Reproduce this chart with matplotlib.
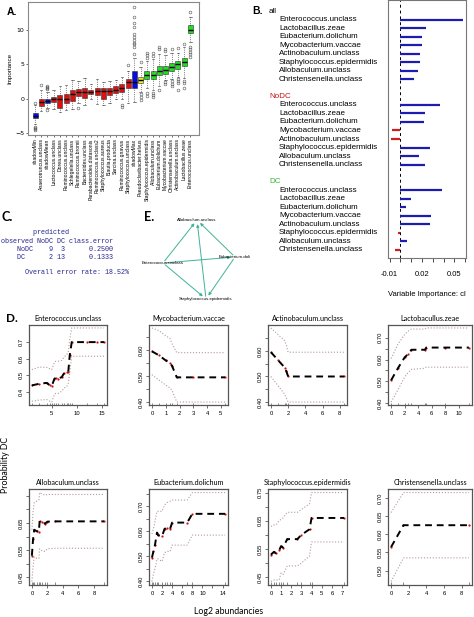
import numpy as np
import matplotlib
matplotlib.use('Agg')
import matplotlib.pyplot as plt
from matplotlib.transforms import blended_transform_factory

W, H = 474, 617

# ---- panel A: Boruta importance boxplots ----
a_names = ['shadowMin', 'Anaerotruncus.unclass', 'shadowMean', 'Lactococcus.unclass',
           'Dorea.unclass', 'Ruminococcus.unclass', 'Schlegelella.unclass',
           'Ruminococcus.bromii', 'Bacteroides.unclass', 'Parabacteroides.distasonis',
           'Ruminococcus.unclass2', 'Staphylococcus.aureus', 'Blautia.producta',
           'Sarcina.unclass', 'Ruminococcus.gnavus', 'Staphylococcus.unclass',
           'shadowMax', 'Pseudoclavibacter.helvus', 'Staphylococcus.epidermidis',
           'Allobaculum.unclass', 'Eubacterium.dolichum', 'Mycobacterium.vaccae',
           'Christensenella.unclass', 'Actinobaculum.unclass', 'Lactobacillus.zeae',
           'Enterococcus.unclass']
a_group = ['shadow', 'rejected', 'shadow'] + ['rejected'] * 13 + ['shadow', 'tentative'] + ['confirmed'] * 8
a_q1 = [-2.9, -1.1, -0.6, -0.5, -1.4, -0.7, -0.4, 0.4, 0.1, 0.6, 0.5, 0.0, 0.5, 0.8, 1.0, 1.6,
        1.6, 2.3, 2.8, 2.8, 3.5, 3.6, 4.1, 4.4, 4.7, 9.6]
a_med = [-2.5, -0.5, -0.3, -0.05, -0.1, 0.0, 0.6, 1.0, 0.9, 1.0, 1.1, 1.1, 1.1, 1.3, 1.55, 2.4,
         2.4, 2.75, 3.4, 3.5, 4.1, 4.2, 4.6, 5.0, 5.3, 10.1]
a_q3 = [-2.1, 0.0, 0.0, 0.3, 0.5, 0.6, 1.2, 1.4, 1.5, 1.3, 1.6, 1.6, 1.6, 1.8, 2.1, 2.9,
        4.0, 3.2, 4.0, 4.1, 4.7, 4.8, 5.2, 5.5, 6.0, 10.7]
a_lo = [-3.7, -1.8, -1.4, -1.5, -2.0, -1.6, -1.5, -0.6, -1.0, -0.1, -0.8, -1.0, -0.6, 0.0, 0.0, -0.7,
        -0.5, 0.9, 1.5, 1.2, 1.8, 2.7, 2.8, 3.2, 3.0, 8.3]
a_hi = [-1.0, 1.2, 1.0, 1.2, 1.8, 2.0, 2.7, 2.6, 3.0, 2.1, 2.9, 2.4, 2.6, 2.7, 3.2, 4.0,
        6.0, 4.6, 5.5, 5.8, 6.5, 6.4, 6.6, 6.6, 7.6, 12.0]
a_out = [[-4.1, -4.3, -4.5, -4.6, -0.6], [2.0], [1.4, 1.6, 1.7, 1.8, -1.7], [], [], [], [],
         [-1.4], [], [], [], [], [], [], [-1.0, -1.2], [4.9],
         [6.5, 7.5, 8.0, 8.2, 8.5, 9.0, 9.5, 10.5, 11.0, 12.0, 13.4],
         [5.3, 0.6, 0.2, -0.2], [6.0, 6.4, 6.7, 0.8, 0.4], [6.3, 6.6, 0.8, 0.5, 0.3],
         [7.3, 7.6, 1.3], [7.0, 7.3, 2.4, 2.1], [7.2, 2.5, 2.2, 1.9],
         [7.4, 2.8, 2.5, 2.3, 1.3], [8.0, 2.5, 2.3, 1.5], [12.7, 7.5, 7.2, 6.8, 6.5, 6.1]]
a_colors = {'shadow': '#0a0ae0', 'rejected': '#e01010', 'tentative': '#f0f020', 'confirmed': '#22dd22'}

# ---- panel B: variable importance ----
b_taxa = ['Enterococcus.unclass', 'Lactobacillus.zeae', 'Eubacterium.dolichum',
          'Mycobacterium.vaccae', 'Actinobaculum.unclass', 'Staphylococcus.epidermidis',
          'Allobaculum.unclass', 'Christensenella.unclass']
b_headers = ['all', 'NoDC', 'DC']
b_header_colors = ['black', '#cc1111', '#33bb33']
b_all = [0.058, 0.0236, 0.020, 0.0197, 0.0185, 0.018, 0.0167, 0.0127]
b_nodc = [0.0367, 0.0224, 0.022, -0.0082, -0.0088, 0.027, 0.017, 0.023]
b_dc = [0.0385, 0.010, 0.0055, 0.0285, 0.0276, -0.0018, 0.006, -0.0052]

# ---- panel C: confusion matrix ----
c_lines = ['        predicted',
           'observed NoDC DC class.error',
           '    NoDC    9  3      0.2500',
           '    DC      2 13      0.1333']
c_error = '      Overall error rate: 18.52%'

# ---- panel E: network ----
e_pos = {'Allobaculum.unclass': (197, 220), 'Eubacterium.doli': (235, 257),
         'Enterococcus.unclass': (163, 263), 'Staphylococcus.epidermidis': (206, 299)}
e_edges = [('Enterococcus.unclass', 'Allobaculum.unclass'),
           ('Staphylococcus.epidermidis', 'Allobaculum.unclass'),
           ('Eubacterium.doli', 'Allobaculum.unclass'),
           ('Enterococcus.unclass', 'Eubacterium.doli'),
           ('Enterococcus.unclass', 'Staphylococcus.epidermidis'),
           ('Eubacterium.doli', 'Staphylococcus.epidermidis')]

# ---- panel D: partial dependence ----
ent_x = [1.0, 2.5, 4.0, 4.6, 5.0, 5.5, 5.8, 6.3, 7.0, 7.5, 8.0, 8.3, 8.6, 9.0, 12.0, 14.0, 15.5]
ent_mean = [0.44, 0.45, 0.455, 0.44, 0.437, 0.478, 0.487, 0.48, 0.49, 0.515, 0.52, 0.52, 0.62, 0.70, 0.70, 0.70, 0.70]
ent_hi = [0.535, 0.55, 0.548, 0.54, 0.535, 0.578, 0.585, 0.585, 0.59, 0.612, 0.625, 0.64, 0.72, 0.785, 0.785, 0.785, 0.785]
ent_lo = [0.345, 0.352, 0.355, 0.345, 0.34, 0.385, 0.392, 0.392, 0.405, 0.425, 0.432, 0.452, 0.52, 0.615, 0.615, 0.615, 0.615]

myc_x = [0, 0.5, 1.0, 1.3, 1.45, 1.8, 3.0, 5.3]
myc_mean = [0.595, 0.58, 0.56, 0.55, 0.54, 0.495, 0.495, 0.495]
myc_hi = [0.685, 0.675, 0.655, 0.645, 0.625, 0.59, 0.59, 0.59]
myc_lo = [0.505, 0.485, 0.465, 0.455, 0.445, 0.40, 0.40, 0.40]

act_x = [0, 0.8, 1.6, 1.8, 2.0, 8.5]
act_mean = [0.595, 0.565, 0.535, 0.52, 0.50, 0.50]
act_hi = [0.69, 0.665, 0.64, 0.62, 0.595, 0.595]
act_lo = [0.50, 0.465, 0.43, 0.415, 0.40, 0.40]

lac_x = [0, 1.0, 2.0, 2.5, 3.0, 5.0, 5.2, 8.0, 11.5]
lac_mean = [0.505, 0.56, 0.61, 0.625, 0.645, 0.645, 0.655, 0.655, 0.655]
lac_hi = [0.605, 0.67, 0.715, 0.73, 0.74, 0.74, 0.745, 0.745, 0.745]
lac_lo = [0.405, 0.46, 0.52, 0.54, 0.555, 0.56, 0.565, 0.565, 0.565]

all_x = [0, 0.15, 0.3, 0.6, 0.9, 1.0, 1.3, 1.7, 2.0, 3.0, 9.3]
all_mean = [0.53, 0.59, 0.625, 0.62, 0.618, 0.658, 0.652, 0.648, 0.655, 0.656, 0.656]
all_hi = [0.625, 0.69, 0.725, 0.73, 0.735, 0.762, 0.757, 0.752, 0.755, 0.755, 0.755]
all_lo = [0.435, 0.49, 0.525, 0.52, 0.52, 0.555, 0.548, 0.545, 0.555, 0.557, 0.557]

eub_x = [0, 0.3, 0.6, 1.0, 1.2, 2.0, 2.5, 3.0, 3.6, 4.0, 7.0, 8.0, 14.5]
eub_mean = [0.495, 0.52, 0.545, 0.595, 0.585, 0.58, 0.61, 0.615, 0.61, 0.635, 0.635, 0.67, 0.67]
eub_hi = [0.59, 0.61, 0.64, 0.68, 0.68, 0.68, 0.705, 0.715, 0.72, 0.725, 0.725, 0.755, 0.755]
eub_lo = [0.40, 0.43, 0.45, 0.49, 0.49, 0.48, 0.515, 0.52, 0.52, 0.545, 0.545, 0.585, 0.585]

sta_x = [0, 0.3, 0.5, 0.8, 1.0, 1.2, 1.6, 2.6, 3.0, 3.8, 4.0, 7.2]
sta_mean = [0.53, 0.54, 0.535, 0.545, 0.56, 0.555, 0.585, 0.585, 0.60, 0.62, 0.66, 0.66]
sta_hi = [0.63, 0.635, 0.635, 0.65, 0.655, 0.66, 0.68, 0.68, 0.69, 0.71, 0.75, 0.75]
sta_lo = [0.435, 0.44, 0.44, 0.44, 0.465, 0.46, 0.49, 0.49, 0.50, 0.525, 0.575, 0.575]

chr_x = [0, 1.4, 8.8]
chr_mean = [0.565, 0.625, 0.625]
chr_hi = [0.66, 0.715, 0.715]
chr_lo = [0.47, 0.535, 0.535]

d_titles = ['Enterococcus.unclass', 'Mycobacterium.vaccae', 'Actinobaculum.unclass',
            'Lactobacullus.zeae', 'Allobaculum.unclass', 'Eubacterium.dolichum',
            'Staphylococcus.epidermidis', 'Christensenella.unclass']
d_xticks = [[5, 10, 15], [0, 1, 2, 3, 4, 5], [0, 2, 4, 6, 8], [0, 2, 4, 6, 8, 10],
            [0, 2, 4, 6, 8], [0, 2, 4, 6, 8, 10, 12, 14], [0, 1, 2, 3, 4, 5, 6, 7], [0, 2, 4, 6, 8]]
d_xhide = [[], [], [], [], [], [12], [], []]
d_yticks = [[0.4, 0.5, 0.6, 0.7], [0.40, 0.45, 0.50, 0.55, 0.60, 0.65],
            [0.40, 0.45, 0.50, 0.55, 0.60, 0.65], [0.40, 0.45, 0.50, 0.55, 0.60, 0.65, 0.70],
            [0.45, 0.50, 0.55, 0.60, 0.65, 0.70, 0.75], [0.40, 0.45, 0.50, 0.55, 0.60, 0.65, 0.70, 0.75],
            [0.45, 0.50, 0.55, 0.60, 0.65, 0.70, 0.75], [0.50, 0.55, 0.60, 0.65, 0.70]]
d_ylabeled = [[0.4, 0.5, 0.6, 0.7], [0.40, 0.50, 0.60], [0.40, 0.50, 0.60], [0.40, 0.50, 0.60, 0.70],
              [0.45, 0.55, 0.65], [0.40, 0.50, 0.60, 0.70], [0.45, 0.55, 0.65, 0.75],
              [0.50, 0.55, 0.60, 0.65, 0.70]]
d_yfmt = ['%.1f'] + ['%.2f'] * 7

d_series = [(ent_x, ent_mean, ent_hi, ent_lo), (myc_x, myc_mean, myc_hi, myc_lo),
            (act_x, act_mean, act_hi, act_lo), (lac_x, lac_mean, lac_hi, lac_lo),
            (all_x, all_mean, all_hi, all_lo), (eub_x, eub_mean, eub_hi, eub_lo),
            (sta_x, sta_mean, sta_hi, sta_lo), (chr_x, chr_mean, chr_hi, chr_lo)]

fig = plt.figure(figsize=(W / 100, H / 100), dpi=100)


def rect(x0, y0, x1, y1):
    return [x0 / W, 1 - y1 / H, (x1 - x0) / W, (y1 - y0) / H]


def frame(ax, col='#555555', lw=0.8):
    for s in ax.spines.values():
        s.set_color(col)
        s.set_linewidth(lw)


# panel A
ax = fig.add_axes(rect(28, 2, 199, 135))
stats = []
for i in range(len(a_names)):
    stats.append(dict(med=a_med[i], q1=a_q1[i], q3=a_q3[i], whislo=a_lo[i],
                      whishi=a_hi[i], fliers=a_out[i], label=a_names[i]))
pos = np.arange(1, len(a_names) + 1)
bp = ax.bxp(stats, positions=pos, widths=0.8, patch_artist=True,
            boxprops=dict(edgecolor='#333333', linewidth=0.4),
            medianprops=dict(color='black', linewidth=1.0),
            whiskerprops=dict(color='#222222', linestyle=':', linewidth=0.5),
            capprops=dict(color='#222222', linewidth=0.4),
            flierprops=dict(marker='o', markersize=2, markerfacecolor='none',
                            markeredgecolor='#555555', markeredgewidth=0.4))
for patch, g in zip(bp['boxes'], a_group):
    patch.set_facecolor(a_colors[g])
ax.set_xlim(-0.13, 27.4)
ax.set_ylim(-5.32, 14.12)
ax.set_yticks([-5, 0, 5, 10])
ax.set_xticks(pos)
ax.set_xticklabels(a_names, rotation=90, fontsize=3.6, family='Liberation Sans')
ax.tick_params(axis='y', labelsize=4.5, length=1.5, width=0.4, pad=1)
ax.tick_params(axis='x', length=1.5, width=0.4, pad=1)
ax.set_ylabel('Importance', fontsize=4.5, labelpad=2, family='Liberation Sans')
frame(ax, '#888888', 0.8)

# panel B
ax = fig.add_axes(rect(388, 0, 466, 258))
ax.set_xlim(-0.0115, 0.0607)
ax.set_ylim(28.94, -1.29)
ax.axvline(0, color='black', linestyle=(0, (3, 3)), linewidth=0.7)
tr = blended_transform_factory(fig.transFigure, ax.transData)
row = 0
for h, hc, vals in zip(b_headers, b_header_colors, [b_all, b_nodc, b_dc]):
    ax.text(269 / W, row, h, transform=tr, color=hc, fontsize=5.8, va='center',
            family='Liberation Sans')
    for k, (name, v) in enumerate(zip(b_taxa, vals)):
        y = row + 1 + k
        ax.text(279 / W, y, name, transform=tr, fontsize=5.8, va='center',
                family='Liberation Sans')
        ax.hlines(y, 0, v, color='#1c1cb0' if v > 0 else '#cc2020', linewidth=1.6)
    row += 10
ax.set_yticks([])
ticks_b = [-0.01, 0.0, 0.01, 0.02, 0.03, 0.04, 0.05, 0.06]
ax.set_xticks(ticks_b)
ax.set_xticklabels(['-0.01', '', '', '0.02', '', '', '0.05', ''], fontsize=5.5,
                   family='Liberation Sans')
ax.tick_params(axis='x', length=3, width=0.5, pad=6)
ax.set_xlabel('Variable Importance: cl', fontsize=5.5, labelpad=10, family='Liberation Sans')
frame(ax, '#777777', 0.8)

# panel D
d_cols = [(29, 107), (149, 228), (268, 347), (388, 472)]
d_rows = [(325, 405), (489, 585)]
for i, (xs, m, hi, lo) in enumerate(d_series):
    x0, x1 = d_cols[i % 4]
    y0, y1 = d_rows[i // 4]
    ax = fig.add_axes(rect(x0, y0, x1, y1))
    ax.plot(xs, hi, color='#b59a9a', linestyle=':', linewidth=0.8)
    ax.plot(xs, lo, color='#b59a9a', linestyle=':', linewidth=0.8)
    ax.plot(xs, m, 'o', color='#cc1111', markersize=1.6, markeredgewidth=0)
    ax.plot(xs, m, color='black', linestyle=(0, (3.5, 2.5)), linewidth=1.4)
    rtr = blended_transform_factory(ax.transData, ax.transAxes)
    ax.vlines(xs, 0, 0.03, transform=rtr, color='#333333', linewidth=0.4)
    xr = max(xs) - min(xs)
    ax.set_xlim(min(xs) - 0.04 * xr, max(xs) + 0.04 * xr)
    ymin, ymax = min(lo), max(hi)
    yr = ymax - ymin
    ax.set_ylim(ymin - 0.04 * yr, ymax + 0.04 * yr)
    ax.set_xticks(d_xticks[i])
    ax.set_xticklabels(['' if t in d_xhide[i] else str(t) for t in d_xticks[i]])
    ax.set_yticks(d_yticks[i])
    ax.set_yticklabels([d_yfmt[i] % t if any(abs(t - s) < 1e-9 for s in d_ylabeled[i]) else ''
                        for t in d_yticks[i]], rotation=90, va='center')
    ax.tick_params(labelsize=4.2, length=2, width=0.4, pad=2)
    for lab in ax.get_xticklabels() + ax.get_yticklabels():
        lab.set_family('Liberation Sans')
    ax.set_title(d_titles[i], fontsize=5.2, pad=3, family='Lato')
    frame(ax, '#555555', 0.9)

# overlay for texts, panel C and E
ov = fig.add_axes([0, 0, 1, 1])
ov.set_xlim(0, W)
ov.set_ylim(H, 0)
ov.axis('off')

ov.text(7, 12, 'A.', fontsize=7.5, fontweight='bold', va='center', family='Liberation Sans')
ov.text(252, 11, 'B.', fontsize=7.5, fontweight='bold', va='center', family='Liberation Sans')
ov.text(2, 217, 'C.', fontsize=9, fontweight='bold', va='center', family='Lato')
ov.text(144, 217, 'E.', fontsize=9, fontweight='bold', va='center', family='Lato')
ov.text(6, 319, 'D.', fontsize=8.5, fontweight='bold', va='center', family='Lato')
ov.text(6, 465, 'Probability DC', fontsize=6.3, rotation=90, va='center', ha='center', family='Lato')
ov.text(229, 611, 'Log2 abundancies', fontsize=6.3, va='center', ha='center', family='Lato')

for k, line in enumerate(c_lines):
    ov.text(1, 233 + 8.2 * k, line, fontsize=4.9, family='Liberation Mono',
            color='#27278f', va='center')
ov.text(1, 272, c_error, fontsize=4.9, family='Liberation Mono', color='#27278f', va='center')

for a, b in e_edges:
    ov.annotate('', xy=e_pos[b], xytext=e_pos[a],
                arrowprops=dict(arrowstyle='-|>', color='#3fb397', lw=0.7,
                                shrinkA=2, shrinkB=3, mutation_scale=4))
for name, (x, y) in e_pos.items():
    ov.text(x, y, name, fontsize=3.2, ha='center', va='center', family='Liberation Sans')

fig.savefig('out.png', dpi=100)
